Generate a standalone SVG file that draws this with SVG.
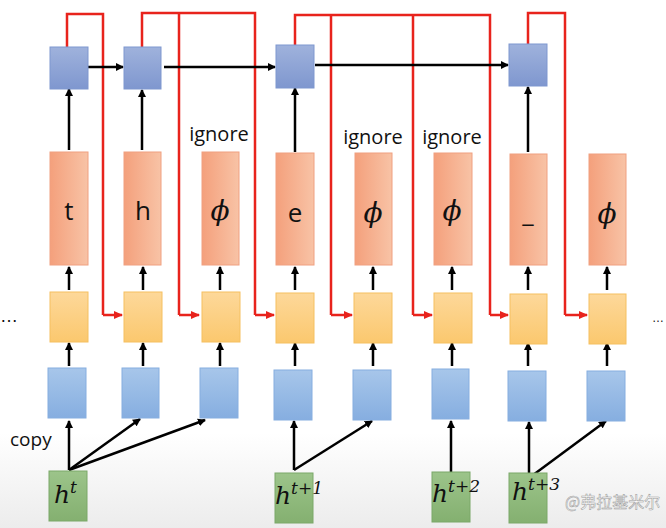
<svg xmlns="http://www.w3.org/2000/svg" width="666" height="528" viewBox="0 0 666 528">
<defs>
<linearGradient id="gb" x1="0" y1="0" x2="0" y2="1"><stop offset="0" stop-color="#9fb2dc"/><stop offset="1" stop-color="#7f97cf"/></linearGradient>
<linearGradient id="gl" x1="0" y1="0" x2="0" y2="1"><stop offset="0" stop-color="#a7c6ea"/><stop offset="1" stop-color="#86aee0"/></linearGradient>
<linearGradient id="go" x1="0" y1="0" x2="1" y2="0"><stop offset="0" stop-color="#f4a07c"/><stop offset="1" stop-color="#f8c3a6"/></linearGradient>
<linearGradient id="gy" x1="0" y1="0" x2="0" y2="1"><stop offset="0" stop-color="#fdd89a"/><stop offset="1" stop-color="#fbc86e"/></linearGradient>
<linearGradient id="gg" x1="0" y1="0" x2="0" y2="1"><stop offset="0" stop-color="#9cc48a"/><stop offset="1" stop-color="#84b070"/></linearGradient>
<marker id="ak" markerWidth="8" markerHeight="8" refX="7" refY="4" orient="auto" markerUnits="userSpaceOnUse"><path d="M0,0 L8,4 L0,8 z" fill="#000"/></marker>
<marker id="ar" markerWidth="9" markerHeight="8" refX="8" refY="4" orient="auto" markerUnits="userSpaceOnUse"><path d="M0,0 L9,4 L0,8 z" fill="#e8231c"/></marker>
<linearGradient id="bg" x1="0" y1="0" x2="0" y2="1"><stop offset="0.82" stop-color="#fff"/><stop offset="1" stop-color="#ececec"/></linearGradient>
</defs>
<style>
.t{stroke:#7f97cf;stroke-width:1;fill:url(#gb)}
.l{stroke:#86aee0;stroke-width:1;fill:url(#gl)}
.o{stroke:#f0a080;stroke-width:1;fill:url(#go)}
.y{stroke:#f5c060;stroke-width:1;fill:url(#gy)}
.g{stroke:#7aa868;stroke-width:1;fill:url(#gg)}
.k{stroke:#000;stroke-width:2.5;fill:none;marker-end:url(#ak)}
.r{stroke:#e8231c;stroke-width:2.5;fill:none}
.ra{stroke:#e8231c;stroke-width:2.5;fill:none;marker-end:url(#ar)}
.lab{font-family:"Open Sans","Liberation Sans",Arial,sans-serif;font-size:26px;fill:#111;text-anchor:middle}
.ig{font-family:"Open Sans","Liberation Sans",Arial,sans-serif;font-size:20px;fill:#111;text-anchor:middle}
.p{font-family:"DejaVu Serif",serif;font-style:italic;font-size:28px;fill:#111;text-anchor:middle}
.h{font-family:"DejaVu Serif",serif;font-style:italic;font-size:25px;fill:#111}
</style>
<rect width="666" height="528" fill="url(#bg)"/>
<g id="connectors">
<path class="r" d="M67,47 V14 H103 V315"/><path class="ra" d="M103,315 H122"/>
<path class="r" d="M142,47 V13 H255 V315"/><path class="ra" d="M255,315 H274"/>
<path class="r" d="M179,13 V315"/><path class="ra" d="M179,315 H199"/>
<path class="r" d="M295,45 V15 H490 V315"/><path class="ra" d="M490,315 H508"/>
<path class="r" d="M331,15 V315"/><path class="ra" d="M331,315 H352"/>
<path class="r" d="M413,15 V315"/><path class="ra" d="M413,315 H432"/>
<path class="r" d="M528,44 V13 H565 V315"/><path class="ra" d="M565,315 H587"/>
<path class="k" d="M88,67 H123"/><path class="k" d="M164,67 H275"/><path class="k" d="M315,65 H508"/>
<path class="k" d="M69,150 V89"/><path class="k" d="M142,150 V90"/><path class="k" d="M295,152 V88"/><path class="k" d="M528,152 V87"/>
<path class="k" d="M69,290 V267"/><path class="k" d="M143,290 V267"/><path class="k" d="M220,290 V267"/><path class="k" d="M295,290 V267"/><path class="k" d="M373,290 V267"/><path class="k" d="M452,290 V267"/><path class="k" d="M528,290 V267"/><path class="k" d="M607,290 V267"/>
<path class="k" d="M69,366 V343"/><path class="k" d="M143,366 V343"/><path class="k" d="M220,366 V343"/><path class="k" d="M295,366 V343"/><path class="k" d="M373,366 V343"/><path class="k" d="M452,366 V343"/><path class="k" d="M528,366 V343"/><path class="k" d="M607,366 V343"/>
<path class="k" d="M69,470 V421"/><path class="k" d="M69,470 L140,419"/><path class="k" d="M69,470 L205,420"/>
<path class="k" d="M294,470 V421"/><path class="k" d="M294,470 L372,421"/>
<path class="k" d="M451,472 V421"/>
<path class="k" d="M529,478 V422"/><path class="k" d="M529,478 L606,421"/>
</g>
<g id="top"><rect class="t" x="50" y="47" width="38" height="42"/><rect class="t" x="124" y="47" width="37" height="42"/><rect class="t" x="276" y="45" width="38" height="43"/><rect class="t" x="509" y="44" width="38" height="42"/></g>
<g id="out">
<rect class="o" x="50" y="152" width="38" height="113"/><text class="lab" x="69" y="220">t</text>
<rect class="o" x="124" y="152" width="37" height="113"/><text class="lab" x="143" y="220">h</text>
<rect class="o" x="202" y="152" width="37" height="113"/><text class="p" x="220" y="220">ϕ</text>
<rect class="o" x="276" y="153" width="38" height="112"/><text class="lab" x="295" y="222">e</text>
<rect class="o" x="355" y="153" width="37" height="112"/><text class="p" x="373" y="222">ϕ</text>
<rect class="o" x="434" y="153" width="38" height="112"/><text class="p" x="452" y="220">ϕ</text>
<rect class="o" x="510" y="154" width="37" height="111"/><text class="lab" x="528" y="222">_</text>
<rect class="o" x="589" y="154" width="37" height="111"/><text class="p" x="607" y="223">ϕ</text>
<text class="ig" x="219" y="141">ignore</text><text class="ig" x="373" y="144">ignore</text><text class="ig" x="452" y="144">ignore</text>
</g>
<g id="mid">
<rect class="y" x="50" y="292" width="38" height="50"/><rect class="y" x="124" y="292" width="38" height="50"/><rect class="y" x="202" y="292" width="38" height="50"/><rect class="y" x="276" y="293" width="38" height="50"/><rect class="y" x="354" y="293" width="38" height="50"/><rect class="y" x="434" y="293" width="38" height="50"/><rect class="y" x="510" y="294" width="37" height="50"/><rect class="y" x="589" y="294" width="37" height="50"/>
</g>
<g id="inp">
<rect class="l" x="48" y="368" width="38" height="50"/><rect class="l" x="122" y="368" width="37" height="50"/><rect class="l" x="200" y="368" width="38" height="50"/><rect class="l" x="274" y="370" width="38" height="50"/><rect class="l" x="353" y="370" width="38" height="50"/><rect class="l" x="432" y="369" width="37" height="50"/><rect class="l" x="508" y="371" width="38" height="50"/><rect class="l" x="587" y="371" width="38" height="50"/>
</g>
<g id="hidden">
<rect class="g" x="49" y="471" width="38" height="50"/><text class="h" x="54" y="503">h<tspan font-size="17" dy="-10">t</tspan></text>
<rect class="g" x="275" y="473" width="38" height="50"/><text class="h" x="275" y="504">h<tspan font-size="17" dy="-10">t+1</tspan></text>
<rect class="g" x="432" y="472" width="38" height="50"/><text class="h" x="432" y="502">h<tspan font-size="17" dy="-10">t+2</tspan></text>
<rect class="g" x="509" y="473" width="38" height="50"/><text class="h" x="512" y="500">h<tspan font-size="17" dy="-10">t+3</tspan></text>
</g>
<text x="10" y="446" font-family="Open Sans,Liberation Sans,sans-serif" font-size="19" fill="#111">copy</text>
<text x="0" y="322" font-family="Liberation Sans,Arial,sans-serif" font-size="18" fill="#111">…</text>
<text x="652" y="322" font-family="Liberation Sans,Arial,sans-serif" font-size="12" fill="#111">…</text>
<text x="565" y="508" font-family="Noto Sans CJK SC,sans-serif" font-size="16" fill="#ffffff" fill-opacity="0.8" stroke="#999" stroke-width="0.5">@弗拉基米尔</text>
</svg>
